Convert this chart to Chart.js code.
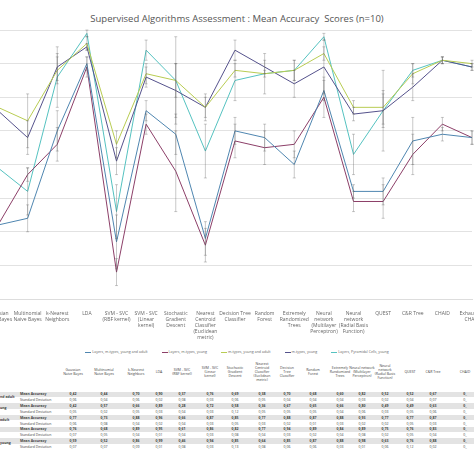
<!DOCTYPE html>
<html><head><meta charset="utf-8">
<script src="https://cdn.jsdelivr.net/npm/chart.js@4"></script>
<style>
body{margin:0;width:474px;height:474px;overflow:hidden;background:#fff;font-family:"Open Sans",Calibri,sans-serif;position:relative}
#title{position:absolute;top:12px;left:0;width:474px;text-align:center;font-size:9.5px;color:#555}
#wrap{position:absolute;left:-40px;top:0;width:540px;height:345px}
#legend{position:absolute;top:349px;left:0;width:474px;text-align:center;font-size:3.6px;color:#666;white-space:nowrap}
#legend span{margin:0 7px}
#legend i{display:inline-block;width:6px;height:1px;vertical-align:middle;margin-right:1px}
.c{position:absolute;font-size:3.5px;color:#444;text-align:center;line-height:4px;white-space:nowrap}
.bg{position:absolute;left:0;width:474px;height:5.6px;background:#e3e3e3}
</style></head><body>
<div id="title">Supervised Algorithms Assessment : Mean Accuracy&nbsp; Scores (n=10)</div>
<div id="wrap"><canvas id="myC"></canvas></div>
<div id="legend"></div>
<div id="tbl"></div>
<script>
const categories = [['Gaussian','Naive Bayes'],['Multinomial','Naive Bayes'],['k-Nearest','Neighbors'],'LDA',['SVM - SVC','(RBF kernel)'],['SVM - SVC','(Linear','kernel)'],['Stochastic','Gradient','Descent'],['Nearest','Centroid','Classifier','(Euclidean','metric)'],['Decision Tree','Classifier'],['Random','Forest'],['Extremely','Randomized','Trees'],['Neural','network','(Multilayer','Perceptron)'],['Neural','network','(Radial Basis','Function)'],'QUEST','C&R Tree','CHAID',['Exhaustive','CHAID']];
const seriesNames = ['Layers, m-types, young and adult','Layers, m-types, young','m-types, young and adult','m-types, young','Layers, Pyramidal Cells, young'];
const colors = ['#4f86b0','#8c3f68','#b8cc52','#55528c','#55c2c0'];
const mean1 = [0.42,0.44,0.70,0.90,0.37,0.76,0.69,0.38,0.70,0.68,0.60,0.82,0.52,0.52,0.67,0.69,0.68];
const mean2 = [0.42,0.57,0.66,0.89,0.28,0.72,0.58,0.36,0.67,0.65,0.66,0.80,0.49,0.49,0.63,0.72,0.68];
const mean3 = [0.77,0.73,0.88,0.96,0.66,0.87,0.85,0.77,0.88,0.87,0.88,0.93,0.77,0.77,0.87,0.91,0.90];
const mean4 = [0.76,0.68,0.89,0.95,0.61,0.86,0.82,0.77,0.94,0.89,0.84,0.89,0.75,0.76,0.83,0.91,0.89];
const mean5 = [0.59,0.52,0.86,0.99,0.46,0.94,0.85,0.64,0.85,0.87,0.88,0.98,0.63,0.76,0.88,0.91,0.89];
const sd1 = [0.06,0.04,0.06,0.02,0.08,0.03,0.06,0.05,0.04,0.04,0.04,0.03,0.02,0.04,0.07,0.02,0.02];
const sd2 = [0.05,0.02,0.05,0.03,0.04,0.03,0.12,0.05,0.05,0.05,0.04,0.06,0.03,0.05,0.06,0.02,0.02];
const sd3 = [0.06,0.08,0.04,0.02,0.04,0.03,0.05,0.03,0.02,0.01,0.03,0.02,0.02,0.05,0.03,0.01,0.01];
const sd4 = [0.07,0.05,0.04,0.01,0.04,0.03,0.08,0.04,0.03,0.02,0.04,0.08,0.02,0.05,0.04,0.01,0.01];
const sd5 = [0.07,0.07,0.09,0.01,0.08,0.03,0.13,0.08,0.06,0.06,0.03,0.01,0.06,0.12,0.02,0.01,0.01];
const means = [mean1,mean2,mean3,mean4,mean5];
const sds = [sd1,sd2,sd3,sd4,sd5];

const errorBars = {
  id: 'errorBars',
  afterDatasetsDraw(chart) {
    const c = chart.ctx, y = chart.scales.y;
    chart.data.datasets.forEach((ds, i) => {
      const meta = chart.getDatasetMeta(i);
      c.save();
      c.strokeStyle = 'rgba(90,90,90,0.55)';
      c.lineWidth = 0.6;
      meta.data.forEach((pt, j) => {
        const v = ds.data[j], s = sds[i][j];
        const t = y.getPixelForValue(v + s), b = y.getPixelForValue(v - s);
        c.beginPath();
        c.moveTo(pt.x, t); c.lineTo(pt.x, b);
        c.moveTo(pt.x - 1.5, t); c.lineTo(pt.x + 1.5, t);
        c.moveTo(pt.x - 1.5, b); c.lineTo(pt.x + 1.5, b);
        c.stroke();
      });
      c.restore();
    });
  }
};

new Chart(document.querySelector('#myC').getContext('2d'), {
  type: 'line',
  data: {
    labels: categories,
    datasets: seriesNames.map((n, i) => ({
      label: n, data: means[i], borderColor: colors[i], borderWidth: 1,
      pointRadius: 0, tension: 0, fill: false
    }))
  },
  options: {
    responsive: true, maintainAspectRatio: false, animation: false,
    layout: { padding: { left: 38, right: 28, top: 30 } },
    scales: {
      y: { min: 0.2, max: 1.0, ticks: { display: false, stepSize: 0.1 },
           grid: { color: '#e2e2e2', drawTicks: false }, border: { display: false } },
      x: { offset: false, grid: { display: false }, border: { color: '#ddd' },
           ticks: { color: '#666', font: { size: 5, family: 'Open Sans' }, maxRotation: 0, autoSkip: false, padding: 4 } }
    },
    plugins: { legend: { display: false }, tooltip: { enabled: false } }
  },
  plugins: [errorBars]
});

// legend
document.getElementById('legend').innerHTML = seriesNames.map((n, i) =>
  `<span><i style="background:${colors[i]}"></i>${n}</span>`).join('');

// table
const colX = [73,104,136,159,182,210,235,262,287,313,340,362,385,410,433,465];
const headers = ['Gaussian<br>Naive Bayes','Multinomial<br>Naive Bayes','k-Nearest<br>Neighbors','LDA','SVM - SVC<br>(RBF kernel)','SVM - SVC<br>(Linear<br>kernel)','Stochastic<br>Gradient<br>Descent','Nearest<br>Centroid<br>Classifier<br>(Euclidean<br>metric)','Decision<br>Tree<br>Classifier','Random<br>Forest','Extremely<br>Randomized<br>Trees','Neural network<br>(Multilayer<br>Perceptron)','Neural<br>network<br>(Radial Basis<br>Function)','QUEST','C&amp;R Tree','CHAID'];
const groupLabels = ['nd adult','ung','adult','','young'];
let h = '';
headers.forEach((t, k) => {
  const lines = t.split('<br>').length;
  h += `<div class="c" style="left:${colX[k]-20}px;width:40px;top:${372 - lines*2}px">${t}</div>`;
});
for (let g = 0; g < 5; g++) {
  const top = 391.5 + g * 11.7;
  h += `<div class="bg" style="top:${top}px"></div>`;
  h += `<div class="c" style="left:0;top:${top+3}px;font-weight:bold;text-align:left">${groupLabels[g]}</div>`;
  h += `<div class="c" style="left:20px;top:${top+0.8}px;text-align:left;font-weight:bold">Mean Accuracy</div>`;
  h += `<div class="c" style="left:20px;top:${top+6.6}px;text-align:left">Standard Deviation</div>`;
  colX.forEach((x, k) => {
    const m = k === 15 ? '0_' : means[g][k].toFixed(2).replace('.', ',');
    const s = k === 15 ? '0_' : sds[g][k].toFixed(2).replace('.', ',');
    h += `<div class="c" style="left:${x-10}px;width:20px;top:${top+0.8}px;font-weight:bold">${m}</div>`;
    h += `<div class="c" style="left:${x-10}px;width:20px;top:${top+6.6}px">${s}</div>`;
  });
}
document.getElementById('tbl').innerHTML = h;
</script>
</body></html>
